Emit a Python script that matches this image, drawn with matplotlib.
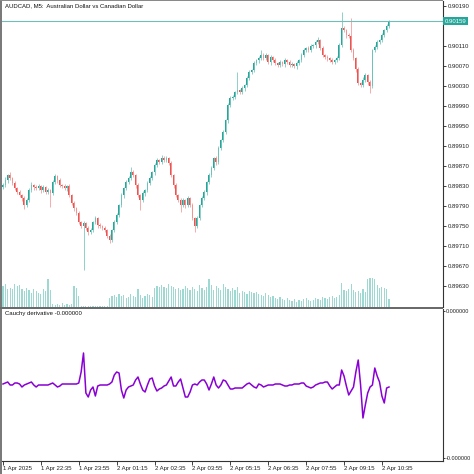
import numpy as np
import matplotlib.pyplot as plt
from matplotlib.transforms import blended_transform_factory

plt.rcParams['font.family'] = ['Liberation Sans', 'DejaVu Sans']

# AUDCAD M5 candles, prices in points (1e-5)
closes = [89831, 89841, 89851, 89845, 89835, 89825, 89817, 89811, 89805, 89791,
          89801, 89821, 89831, 89827, 89825, 89829, 89821, 89827, 89817, 89821,
          89815, 89837, 89849, 89841, 89831, 89829, 89825, 89829, 89811, 89795,
          89785, 89775, 89757, 89750, 89755, 89745, 89737, 89741, 89757, 89765,
          89751, 89749, 89745, 89741, 89729, 89721, 89741, 89757, 89771, 89791,
          89811, 89825, 89837, 89845, 89857, 89851, 89831, 89811, 89801, 89815,
          89821, 89835, 89845, 89857, 89871, 89881, 89877, 89885, 89881, 89885,
          89875, 89851, 89831, 89811, 89801, 89791, 89801, 89791, 89805, 89791,
          89765, 89749, 89765, 89791, 89805, 89817, 89837, 89851, 89865, 89885,
          89877, 89905, 89921, 89937, 89961, 89991, 90005, 90007, 90017, 90021,
          90017, 90025, 90031, 90045, 90057, 90061, 90075, 90081, 90085, 90091,
          90085, 90091, 90077, 90087, 90081, 90075, 90071, 90077, 90073, 90081,
          90077, 90071, 90073, 90069, 90075, 90081, 90091, 90101, 90105, 90101,
          90109, 90111, 90117, 90121, 90105, 90091, 90087, 90085, 90081, 90077,
          90081, 90085, 90111, 90145, 90141, 90131, 90129, 90101, 90085, 90063,
          90035, 90031, 90041, 90051, 90037, 90029, 90101, 90107, 90117, 90121,
          90131, 90141, 90149, 90159]
first_open = 89827

# wick lengths above / below the body, points
upper_wick = [4, 6, 3, 6, 3, 5, 2, 4, 3, 4,
              5, 4, 6, 3, 4, 5, 3, 4, 3, 4,
              3, 5, 4, 3, 4, 3, 5, 3, 4, 3,
              4, 3, 4, 3, 5, 3, 4, 5, 3, 4,
              3, 4, 3, 4, 3, 4, 3, 4, 5, 3,
              4, 3, 5, 4, 10, 4, 3, 4, 3, 4,
              3, 5, 4, 3, 4, 5, 3, 6, 4, 5,
              3, 4, 3, 4, 3, 4, 5, 3, 4, 3,
              4, 3, 4, 3, 5, 4, 3, 4, 5, 3,
              4, 5, 3, 4, 3, 4, 5, 4, 3, 36,
              3, 4, 3, 4, 5, 3, 4, 3, 4, 10,
              4, 5, 3, 4, 3, 4, 3, 5, 3, 4,
              3, 4, 5, 3, 4, 3, 4, 5, 3, 4,
              5, 3, 4, 6, 3, 4, 3, 4, 3, 4,
              3, 5, 4, 32, 4, 3, 5, 36, 4, 3,
              4, 3, 6, 5, 3, 4, 3, 5, 4, 3,
              4, 3, 4, 3]
lower_wick = [4, 3, 5, 3, 4, 3, 4, 3, 5, 8,
              3, 4, 3, 5, 3, 4, 5, 3, 4, 3,
              28, 3, 4, 5, 3, 4, 3, 5, 3, 4,
              5, 4, 3, 4, 89, 4, 5, 3, 4, 3,
              5, 3, 4, 3, 4, 6, 3, 4, 3, 4,
              3, 5, 3, 4, 3, 4, 5, 3, 20, 4,
              5, 3, 4, 3, 5, 3, 4, 3, 4, 3,
              4, 3, 5, 4, 3, 14, 4, 5, 3, 4,
              3, 12, 4, 3, 4, 3, 5, 3, 4, 3,
              5, 4, 3, 4, 3, 5, 3, 4, 3, 4,
              3, 4, 5, 3, 4, 3, 4, 3, 5, 3,
              4, 3, 4, 5, 3, 4, 3, 4, 3, 5,
              3, 4, 3, 4, 5, 3, 4, 3, 4, 3,
              4, 3, 5, 3, 4, 3, 4, 5, 3, 4,
              3, 4, 3, 4, 3, 5, 4, 3, 4, 5,
              4, 3, 4, 3, 5, 14, 3, 4, 3, 4,
              3, 4, 3, 3]

volumes = [210, 230, 180, 190, 180, 230, 210, 220, 180, 160,
           190, 170, 140, 180, 160, 140, 130, 180, 160, 280,
           170, 30, 20, 30, 20, 40, 20, 30, 20, 30,
           210, 190, 110, 10, 10, 10, 10, 10, 10, 10,
           10, 10, 10, 10, 10, 90, 110, 120, 100, 130,
           110, 120, 90, 100, 130, 110, 100, 180, 120, 90,
           110, 130, 120, 100, 190, 210, 200, 220, 200, 190,
           230, 210, 200, 180, 190, 170, 180, 210, 190, 170,
           200, 180, 160, 220, 190, 170, 200, 280, 220, 170,
           210, 190, 170, 230, 200, 180, 160, 190, 170, 200,
           140, 160, 150, 130, 160, 150, 140, 150, 130, 120,
           110, 140, 120, 100, 110, 90, 80, 100, 80, 70,
           90, 70, 60, 80, 50, 70, 60, 80, 90, 70,
           60, 70, 90, 80, 70, 100, 90, 80, 100, 110,
           90, 100, 120, 240, 170, 160, 180, 230, 170, 150,
           160, 140, 180, 150, 280, 290, 290, 280, 220, 190,
           200, 190, 180, 80]

# Cauchy derivative values (x1e-9)
cauchy = [1, 2, 3, 0, 0, 2, 2, 1, -2, 0,
          1, 2, 3, 0, -2, 0, 0, 0, 0, 0,
          1, 2, 0, -2, -1, 1, 1, 1, 1, 1,
          1, 1, 2, 13, 32, -8, -12, -5, -2, -11,
          -1, 0, 0, 0, 0, 1, 3, 10, 13, 12,
          -5, -13, -5, -2, -1, 0, 5, 8, 1, -5,
          -7, 0, 6, 7, -1, -6, -4, -3, -1, 0,
          4, 8, -1, -1, 3, 6, -3, -12, -12, -7,
          0, 1, 0, 3, 5, 5, 1, -5, 1, 8,
          0, -3, 0, 5, 4, 0, -4, -4, -3, -3,
          -3, -3, -1, 1, 2, 0, -2, -3, 1, 0,
          -2, -1, 0, 0, 0, 1, 1, 1, 0, -1,
          -1, 0, 0, 1, 1, 1, 2, 2, -1, -2,
          -3, -2, 0, 1, 2, 2, 3, 3, -1, -4,
          -2, 0, 0, 15, 9, -1, -10, -6, -2, 13,
          25, 0, -33, -20, -8, -2, 0, 17, 9, 3,
          -11, -18, -3, -2]

time_labels = ["1 Apr 2025", "1 Apr 22:35", "1 Apr 23:55", "2 Apr 01:15", "2 Apr 02:35",
               "2 Apr 03:55", "2 Apr 05:15", "2 Apr 06:35", "2 Apr 07:55", "2 Apr 09:15",
               "2 Apr 10:35"]
price_ticks = [0.89630, 0.89670, 0.89710, 0.89750, 0.89790, 0.89830, 0.89870, 0.89910,
               0.89950, 0.89990, 0.90030, 0.90070, 0.90110, 0.90190]
last_price = 0.90159

bull = '#26a69a'
bear = '#ef5350'
fs = 4.3

c = np.array(closes) / 1e5
o = np.array([first_open] + closes[:-1]) / 1e5
hi = np.maximum(o, c) + np.array(upper_wick) / 1e5
lo = np.minimum(o, c) - np.array(lower_wick) / 1e5
x = np.arange(len(c))
up = c >= o

W = 474
fig = plt.figure(figsize=(4.74, 4.74), dpi=100)
fig.patch.set_facecolor('white')

ax = fig.add_axes([2/W, (W-307)/W, 441/W, 306/W])
axv = ax.twinx()
ax.set_zorder(axv.get_zorder() + 1)
ax.patch.set_visible(False)

# volumes
axv.bar(x, volumes, width=0.5, color='#9dd8d3', linewidth=0)
axv.set_ylim(0, 3060)
axv.set_yticks([])
for s in axv.spines.values():
    s.set_visible(False)

# candles
colors = np.where(up, bull, bear)
wick_colors = np.where(up, '#7cc9c1', '#f3a09e')
ax.vlines(x, lo, hi, colors=wick_colors, linewidth=0.6)
body_h = np.maximum(np.abs(c - o), 0.000015)
ax.bar(x, body_h, bottom=np.minimum(o, c), width=0.72, color=colors, linewidth=0)

ax.axhline(last_price, color='#6fbfb8', linewidth=0.8)

ax.set_xlim(-0.42, 185.8)
ax.set_ylim(0.895874, 0.901994)
ax.yaxis.tick_right()
ax.set_yticks(price_ticks)
ax.set_yticklabels(['%.5f' % p for p in price_ticks])
ax.tick_params(axis='y', length=2.5, width=0.6, labelsize=fs, pad=1, colors='#222222')
ax.set_xticks([])
for s in ['left', 'top', 'bottom']:
    ax.spines[s].set_visible(False)
ax.spines['right'].set_color('#333333')
ax.spines['right'].set_linewidth(0.8)

ax.text(0.006, 0.993, "AUDCAD, M5:  Australian Dollar vs Canadian Dollar",
        transform=ax.transAxes, va='top', ha='left', fontsize=fs, color='#111111')

tr = blended_transform_factory(ax.transAxes, ax.transData)
ax.text(1.004, last_price, '%.5f' % last_price, transform=tr, va='center', ha='left',
        fontsize=fs, color='white',
        bbox=dict(boxstyle='square,pad=0.3', facecolor=bull, edgecolor='none'))

# indicator window
ai = fig.add_axes([2/W, (W-461)/W, 441/W, 152/W])
ai.plot(x, np.array(cauchy) * 1e-9, color='#8a00d4', linewidth=1.1)
ai.set_xlim(-0.42, 185.8)
ai.set_ylim(-76e-9, 76e-9)
ai.yaxis.tick_right()
ai.set_yticks([74e-9, -73e-9])
ai.set_yticklabels(['0.000000', '-0.000000'])
ai.tick_params(axis='y', length=1.5, width=0.6, labelsize=4.0, pad=0.5, colors='#222222')
ai.set_xticks(np.arange(0, 161, 16))
ai.set_xticklabels(time_labels)
ai.tick_params(axis='x', length=3, width=0.6, labelsize=fs, pad=0.5, colors='#222222')
for lab in ai.get_xticklabels():
    lab.set_ha('left')
for s in ['left', 'top']:
    ai.spines[s].set_visible(False)
ai.spines['right'].set_color('#333333')
ai.spines['bottom'].set_color('#333333')
ai.spines['right'].set_linewidth(0.8)
ai.spines['bottom'].set_linewidth(0.8)
ai.text(0.006, 0.985, "Cauchy derivative -0.000000", transform=ai.transAxes,
        va='top', ha='left', fontsize=fs, color='#111111')

# window frame and separator
fig.add_artist(plt.Rectangle((0, 0), 2/W, 1, transform=fig.transFigure,
                             facecolor='#7a7a7a', edgecolor='none'))
fig.add_artist(plt.Rectangle((0, 1 - 1.2/W), 443/W, 1.2/W, transform=fig.transFigure,
                             facecolor='#8a8a8a', edgecolor='none'))
fig.add_artist(plt.Rectangle((0, (W-309)/W), 443/W, 2/W, transform=fig.transFigure,
                             facecolor='#6a6a6a', edgecolor='none'))

fig.savefig('out.png', dpi=100)
